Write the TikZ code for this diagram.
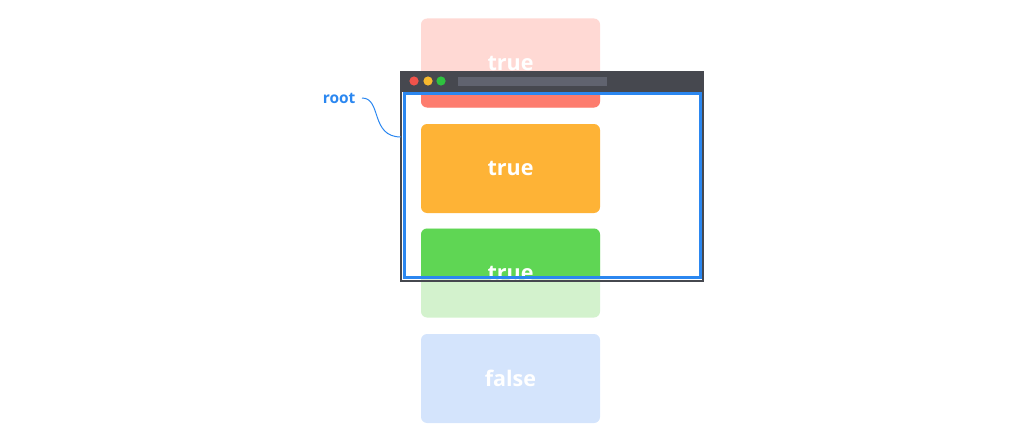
\documentclass[tikz,border=0pt]{standalone}
\usepackage{fontspec}
\setmainfont{Open Sans}
\definecolor{redsolid}{HTML}{FD7C6E}
\definecolor{redpale}{HTML}{FFD9D4}
\definecolor{orangesolid}{HTML}{FEB336}
\definecolor{greensolid}{HTML}{5FD654}
\definecolor{greenpale}{HTML}{D3F2CD}
\definecolor{bluepale}{HTML}{D4E4FC}
\definecolor{rootblue}{HTML}{2B87F0}
\definecolor{frame}{HTML}{46484F}
\definecolor{addrbar}{HTML}{60636F}
\definecolor{dotred}{HTML}{F0534B}
\definecolor{dotyellow}{HTML}{F7B92E}
\definecolor{dotgreen}{HTML}{2EC23F}
\begin{document}
\begin{tikzpicture}[x=1pt,y=-1pt,
  itembox/.style={rounded corners=6pt,minimum width=179pt,minimum height=89pt,inner sep=0pt,
    text=white,font=\fontsize{21.5}{24}\selectfont\bfseries}]
  \useasboundingbox (0,0) rectangle (1034,444);

  % items, pale where they lie outside the viewport
  \node[itembox,fill=redpale] (item1) at (510.5,63) {true};
  \node[itembox,fill=orangesolid] (item2) at (510.5,168.5) {true};
  \node[itembox,fill=greenpale] (item3) at (510.5,273) {true};
  \node[itembox,fill=bluepale] (item4) at (510.5,378.5) {false};

  % solid parts inside the viewport
  \begin{scope}
    \clip (403,92) rectangle (701,278);
    \node[itembox,fill=redsolid] at (item1) {true};
    \node[itembox,fill=greensolid] at (item3) {true};
  \end{scope}

  % browser window
  \draw[frame,line width=1.5pt] (401,72) rectangle (703,281);
  \fill[frame,rounded corners=2pt] (401,72) rectangle (703,92);
  \fill[frame] (401,84) rectangle (703,92);
  \fill[dotred] (414,81) circle (4.6);
  \fill[dotyellow] (428,81) circle (4.6);
  \fill[dotgreen] (441,81) circle (4.6);
  \fill[addrbar] (458,77) rectangle (607,86);
  \draw[rootblue,line width=3pt] (404,93.5) rectangle (700,277.5);% root viewport

  % label
  \node[text=rootblue,font=\fontsize{15.5}{18}\selectfont\bfseries,anchor=east] (root) at (359,98) {root};
  \coordinate (rootpin) at (401,137);
  \draw[rootblue,line width=1pt] ([xshift=3pt]root.east) .. controls (382,98) and (370,137) .. (rootpin);
\end{tikzpicture}
\end{document}
